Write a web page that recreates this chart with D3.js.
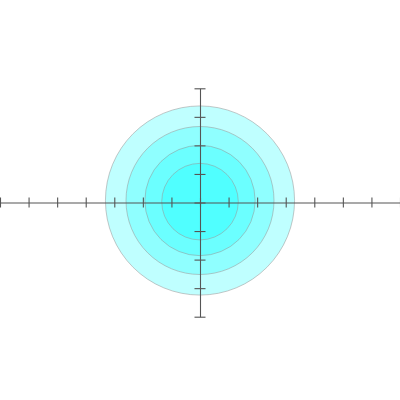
<!DOCTYPE html>
<html>
<head>
<meta charset="utf-8">
<script src="https://cdn.jsdelivr.net/npm/d3@7"></script>
<style>
body { margin: 0; background: #fff; }
.axis line, .axis path { stroke: #555; stroke-width: 1.1; }
.ring { fill: cyan; fill-opacity: 0.25; stroke: #999; stroke-opacity: 0.55; }
</style>
</head>
<body>
<script>
// rings, largest first (data units)
var ringRadius = [3.31, 2.59, 1.93, 1.34];
var ringCx = [0, 0, 0, 0];
var ringCy = [0.07, 0.07, 0.07, 0.03];
var xTicks = [-7, -6, -5, -4, -3, -2, -1, 0, 1, 2, 3, 4, 5, 6, 7];
var yTicks = [-4, -3, -2, -1, 0, 1, 2, 3, 4];

var width = 400, height = 400;

var x = d3.scaleLinear().domain([-7, 7]).range([0, width]);
var y = d3.scaleLinear().domain([-4, 4]).range([316.7, 88.3]);
var unit = x(1) - x(0);

var svg = d3.select("body").append("svg")
	.attr("width", width)
	.attr("height", height);

svg.selectAll(".ring")
	.data(ringRadius)
  .enter().append("circle")
	.attr("class", "ring")
	.attr("cx", function(d, i) { return x(ringCx[i]); })
	.attr("cy", function(d, i) { return y(ringCy[i]); })
	.attr("r", function(d) { return d * unit; });

var gx = svg.append("g")
	.attr("class", "axis")
	.attr("transform", "translate(0," + y(0) + ")")
	.call(d3.axisBottom(x).tickValues(xTicks).tickSize(5).tickSizeOuter(0).tickFormat(""));
gx.selectAll(".tick line").attr("y1", -5);

var gy = svg.append("g")
	.attr("class", "axis")
	.attr("transform", "translate(" + x(0) + ",0)")
	.call(d3.axisLeft(y).tickValues(yTicks).tickSize(5.5).tickSizeOuter(0).tickFormat(""));
gy.selectAll(".tick line").attr("x1", 5.5);
</script>
</body>
</html>
